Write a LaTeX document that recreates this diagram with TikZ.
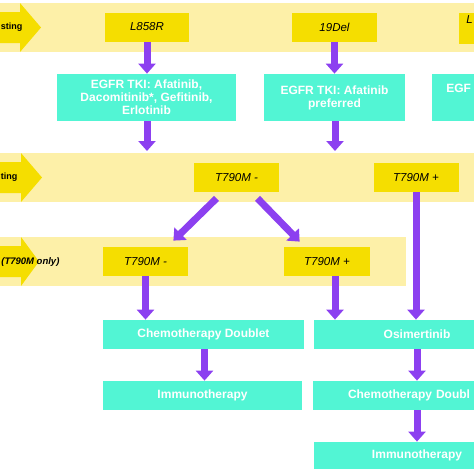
\documentclass[tikz,border=0pt]{standalone}
\usepackage{fontspec}
\setmainfont{Liberation Sans}
\usetikzlibrary{arrows.meta}

\definecolor{bandyellow}{RGB}{253,240,168}
\definecolor{mutyellow}{RGB}{245,222,0}
\definecolor{txcyan}{RGB}{82,245,212}
\definecolor{flowpurple}{RGB}{140,64,240}

\tikzset{every picture/.style={line width=0.75pt}}
\tikzset{
  mutbox/.style={rectangle, fill=mutyellow, inner sep=0pt, minimum height=29pt,
    font=\itshape\fontsize{11.5}{13}\selectfont},
  txbox/.style={rectangle, fill=txcyan, inner sep=0pt, text=white, align=center,
    font=\bfseries\fontsize{12}{13}\selectfont},
  flow/.style={draw=flowpurple, line width=7pt, -{Triangle[width=17pt,length=10pt]}},
  stagetext/.style={anchor=west, inner sep=0pt, font=\bfseries\fontsize{9}{10}\selectfont}
}

\begin{document}
\begin{tikzpicture}[x=1pt,y=1pt,yscale=-1,xscale=1]
\useasboundingbox (0,0) rectangle (474,474);
\clip (0,0) rectangle (474,474);

%Shape: bands
\fill [bandyellow] (0,3) rectangle (474,52);
\fill [bandyellow] (0,153) rectangle (474,202);
\fill [bandyellow] (0,237) rectangle (406,286);

%Shape: stage arrows
\fill [mutyellow] (0,12) -- (20,12) -- (20,3) -- (41,27.5) -- (20,52) -- (20,43) -- (0,43) -- cycle ;
\fill [mutyellow] (0,162) -- (21,162) -- (21,153) -- (42,177.5) -- (21,202) -- (21,193) -- (0,193) -- cycle ;
\fill [mutyellow] (0,246) -- (21,246) -- (21,237) -- (39,261.5) -- (21,286) -- (21,277) -- (0,277) -- cycle ;

% Text Node
\node (stage1) [stagetext] at (0.5,27) {sting};
\node (stage2) [stagetext] at (0.5,177) {ting};
\node (stage3) [stagetext, font=\bfseries\itshape\fontsize{9.5}{10}\selectfont] at (1,262) {(T790M only)};

%Mutations
\node (l858r) [mutbox, minimum width=84pt] at (147,27) {L858R};
\node (del19) [mutbox, minimum width=85pt] at (334.5,27) {19Del};
\node (mutR) [mutbox, minimum width=82pt, minimum height=31pt] at (500,28.5) {};
\node (mutRtext) [anchor=west, inner sep=0pt, font=\itshape\fontsize{11.5}{13}\selectfont] at (466,20) {L};

%First line
\node (tki1) [txbox, minimum width=179pt, minimum height=47pt] at (146.5,97.5) {EGFR TKI: Afatinib,\\Dacomitinib*, Gefitinib,\\Erlotinib};
\node (tki2) [txbox, minimum width=141pt, minimum height=47pt] at (334.5,97.5) {EGFR TKI: Afatinib\\preferred};
\node (tki3) [txbox, minimum width=88pt, minimum height=47pt] at (476,97.5) {};
\node (tki3text) [anchor=west, inner sep=0pt, text=white, font=\bfseries\fontsize{12}{13}\selectfont] at (446,88) {EGF};

%Second line
\coordinate (band2a) at (147,151);
\coordinate (band2b) at (335,151);
\node (neg2) [mutbox, minimum width=85pt] at (236.5,177.5) {T790M -};
\node (pos2) [mutbox, minimum width=85pt] at (416,177.5) {T790M +};

%Third line
\node (neg3) [mutbox, minimum width=85pt] at (145.5,261.5) {T790M -};
\node (pos3) [mutbox, minimum width=86pt] at (327,261.5) {T790M +};

%Treatments
\node (chemoL) [txbox, minimum width=201pt, minimum height=29pt] at (203.5,334.5) {Chemotherapy Doublet};
\node (immunoL) [txbox, minimum width=199pt, minimum height=29pt] at (202.5,395.5) {Immunotherapy};
\node (osim) [txbox, minimum width=206pt, minimum height=29pt] at (417,334.5) {Osimertinib};
\node (chemoR) [txbox, text width=138pt, inner xsep=35pt, align=left, minimum height=29pt] at (417,395.5) {Chemotherapy Doubl};
\node (immunoR) [txbox, minimum width=206pt, minimum height=27pt] at (417,455.5) {Immunotherapy};

%Connectors
\draw [flow] (l858r.south) -- (l858r.south |- tki1.north);
\draw [flow] (del19.south) -- (del19.south |- tki2.north);
\draw [flow] (band2a |- tki1.south) -- (band2a);
\draw [flow] (band2b |- tki2.south) -- (band2b);
\draw [flow] ([shift={(-20,6)}]neg2.south) -- ([shift={(-15,-6)}]neg3.north east);
\draw [flow] ([shift={(21,6)}]neg2.south) -- ([shift={(16,-5)}]pos3.north west);
\draw [flow] (pos2.south) -- (pos2.south |- osim.north);
\draw [flow] (neg3.south) -- (neg3.south |- chemoL.north);
\draw [flow] ([xshift=8pt]pos3.south) -- ([xshift=8pt]pos3.south |- osim.north);
\draw [flow] ([xshift=1pt]chemoL.south) -- ([xshift=1pt]chemoL.south |- immunoL.north);
\draw [flow] (osim.south) -- (chemoR.north);
\draw [flow] (chemoR.south) -- (immunoR.north);

\end{tikzpicture}
\end{document}
